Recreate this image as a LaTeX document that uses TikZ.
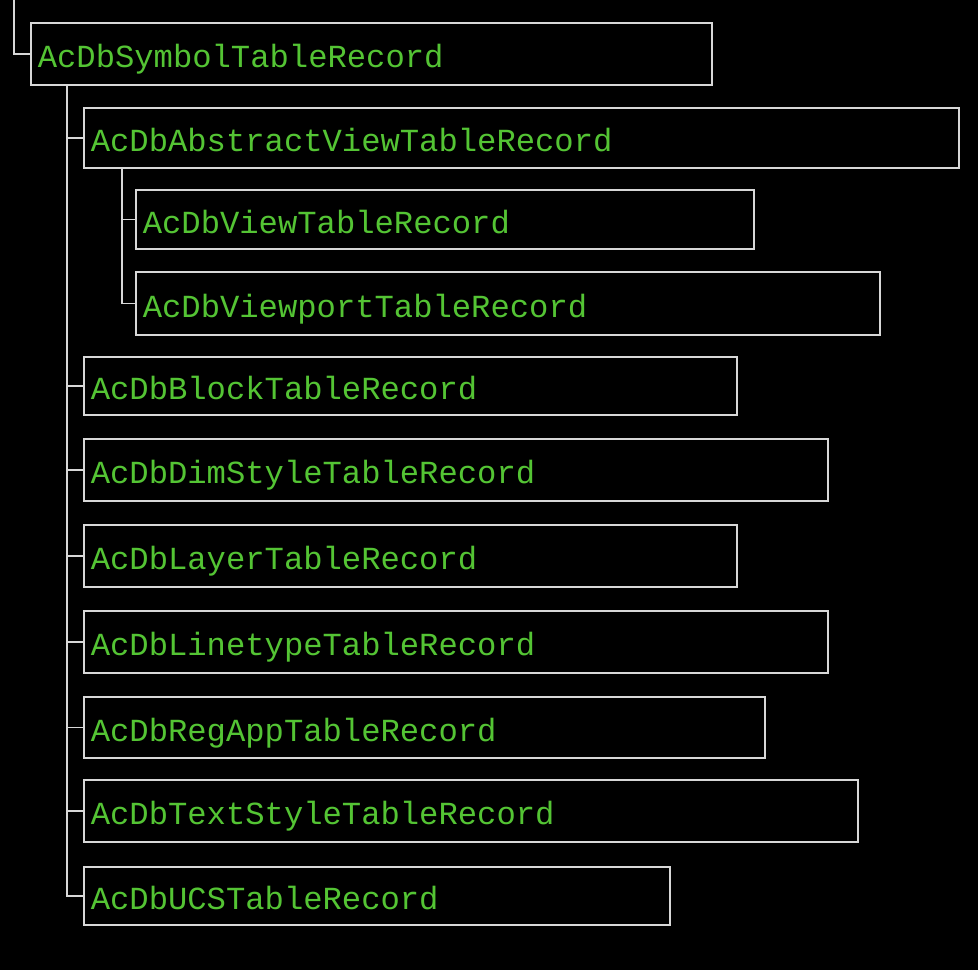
\documentclass[tikz,border=0pt]{standalone}
\usepackage{fontspec}
\newfontfamily\cadfont{Liberation Mono}
\definecolor{cadgreen}{RGB}{84,196,52}
\definecolor{cadline}{RGB}{215,215,215}
\begin{document}
\begin{tikzpicture}[x=1pt,y=-1pt,
  rec/.style={draw=cadline, line width=1.6pt, anchor=north west, inner xsep=7pt, inner ysep=0pt,
    align=left, text=cadgreen, font=\cadfont\fontsize{32.2}{32}\selectfont,
    text height=28pt, text depth=0pt},
  conn/.style={draw=cadline, line width=1.6pt}]
\fill[black] (0,0) rectangle (978,970);
\useasboundingbox (0,0) rectangle (978,970);
\node[rec, text width=667pt, minimum height=62pt] (sym) at (30,22) {AcDbSymbolTableRecord};
\node[rec, text width=861pt, minimum height=60pt] (abs) at (83,107) {AcDbAbstractViewTableRecord};
\node[rec, text width=604pt, minimum height=59pt] (view) at (135,189) {AcDbViewTableRecord};
\node[rec, text width=730pt, minimum height=63pt] (vp) at (135,271) {AcDbViewportTableRecord};
\node[rec, text width=639pt, minimum height=58pt] (block) at (83,356) {AcDbBlockTableRecord};
\node[rec, text width=730pt, minimum height=62pt] (dim) at (83,438) {AcDbDimStyleTableRecord};
\node[rec, text width=639pt, minimum height=62pt] (layer) at (83,524) {AcDbLayerTableRecord};
\node[rec, text width=730pt, minimum height=62pt] (ltype) at (83,610) {AcDbLinetypeTableRecord};
\node[rec, text width=667pt, minimum height=61pt] (regapp) at (83,696) {AcDbRegAppTableRecord};
\node[rec, text width=760pt, minimum height=62pt] (tstyle) at (83,779) {AcDbTextStyleTableRecord};
\node[rec, text width=572pt, minimum height=58pt] (ucs) at (83,866) {AcDbUCSTableRecord};
\coordinate (top) at (14,0);
\coordinate (t0) at (67,84);
\coordinate (t1) at (122,167);
\draw[conn] (top) |- (sym.west);
\foreach \n in {abs,block,dim,layer,ltype,regapp,tstyle,ucs}
  \draw[conn] (t0) |- (\n.west);
\foreach \n in {view,vp}
  \draw[conn] (t1) |- (\n.west);
\end{tikzpicture}
\end{document}
